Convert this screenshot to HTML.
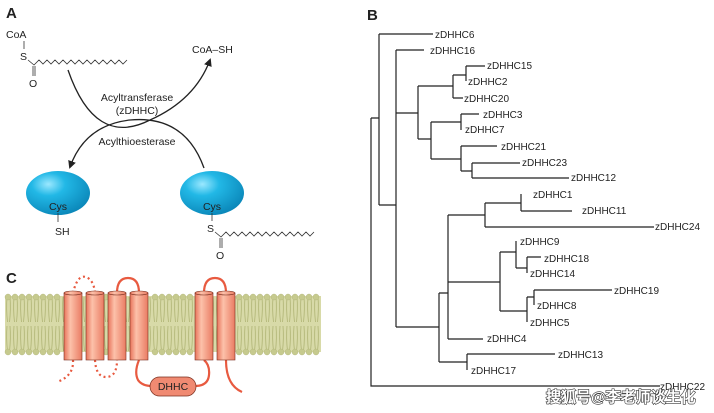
<!DOCTYPE html>
<html><head><meta charset="utf-8"><style>
html,body{margin:0;padding:0;background:#fff;width:714px;height:413px;overflow:hidden}
svg{display:block}
text{font-family:"Liberation Sans",sans-serif;fill:#222}
</style></head><body>
<svg width="714" height="413" viewBox="0 0 714 413" xmlns="http://www.w3.org/2000/svg">
<defs>
<radialGradient id="blob" cx="0.35" cy="0.3" r="0.75">
<stop offset="0" stop-color="#9be8ff"/><stop offset="0.35" stop-color="#22b8e6"/><stop offset="1" stop-color="#0a86b8"/>
</radialGradient>
<linearGradient id="cyl" x1="0" x2="1">
<stop offset="0" stop-color="#e8735a"/><stop offset="0.35" stop-color="#fcc1aa"/><stop offset="1" stop-color="#ea7b62"/>
</linearGradient>
<pattern id="lip" width="7" height="60" patternUnits="userSpaceOnUse" x="5" y="294">
<path d="M2 3 Q1 15 2.5 28 M5 3 Q6 15 4.5 28 M2 32 Q1 44 2.5 57 M5 32 Q6 44 4.5 57" stroke="#b3b779" stroke-width="0.9" fill="none"/>
</pattern>
<marker id="ar" markerWidth="8" markerHeight="8" refX="6" refY="4" orient="auto" markerUnits="userSpaceOnUse"><path d="M0 0 L8 4 L0 8 Z" fill="#222"/></marker>
</defs>

<!-- Panel A -->
<text x="6" y="18" font-size="15" font-weight="bold">A</text>
<text x="6" y="38" font-size="10.5">CoA</text>
<line x1="24" y1="41" x2="24" y2="49" stroke="#333" stroke-width="0.8"/>
<text x="20" y="60" font-size="10.5">S</text>
<path d="M28 60 L34 65 L39 60 L43 64 L47 60 L51 64 L55 60 L59 64 L63 60 L67 64 L71 60 L75 64 L79 60 L83 64 L87 60 L91 64 L95 60 L99 64 L103 60 L107 64 L111 60 L115 64 L119 60 L123 64 L127 60" fill="none" stroke="#333" stroke-width="0.8"/>
<path d="M33 66 V76 M35 66 V76" stroke="#333" stroke-width="0.8"/>
<text x="29" y="87" font-size="10.5">O</text>
<text x="192" y="53" font-size="10.5">CoA–SH</text>
<path d="M68 70 Q95 148 150 120 Q195 100 210 60" fill="none" stroke="#222" stroke-width="1.3" marker-end="url(#ar)"/>
<path d="M204 168 Q185 115 130 120 Q85 125 70 167" fill="none" stroke="#222" stroke-width="1.3" marker-end="url(#ar)"/>
<text x="137" y="101" font-size="10.5" text-anchor="middle">Acyltransferase</text>
<text x="137" y="114" font-size="10.5" text-anchor="middle">(zDHHC)</text>
<text x="137" y="145" font-size="10.5" text-anchor="middle">Acylthioesterase</text>
<ellipse cx="58" cy="193" rx="32" ry="22" fill="url(#blob)"/>
<ellipse cx="212" cy="193" rx="32" ry="22" fill="url(#blob)"/>
<text x="58" y="210" font-size="10.5" text-anchor="middle">Cys</text>
<text x="212" y="210" font-size="10.5" text-anchor="middle">Cys</text>
<line x1="58" y1="213" x2="58" y2="222" stroke="#333" stroke-width="0.8"/>
<text x="55" y="235" font-size="10.5">SH</text>
<line x1="212" y1="213" x2="212" y2="221" stroke="#333" stroke-width="0.8"/>
<text x="207" y="232" font-size="10.5">S</text>
<path d="M215 232 L221 237 L226 232 L230 236 L234 232 L238 236 L242 232 L246 236 L250 232 L254 236 L258 232 L262 236 L266 232 L270 236 L274 232 L278 236 L282 232 L286 236 L290 232 L294 236 L298 232 L302 236 L306 232 L310 236 L314 232" fill="none" stroke="#333" stroke-width="0.8"/>
<path d="M220 238 V248 M222 238 V248" stroke="#333" stroke-width="0.8"/>
<text x="216" y="259" font-size="10.5">O</text>

<!-- Panel C -->
<text x="6" y="283" font-size="15" font-weight="bold">C</text>
<rect x="5" y="296" width="316" height="56" fill="#d8daa8"/>
<rect x="5" y="296" width="316" height="56" fill="url(#lip)"/>
<g id="beads" fill="#c6ca8e" stroke="#b0b478" stroke-width="0.4"></g>
<path d="M73 293 Q78 272 88 278 Q94 282 95 293" fill="none" stroke="#e85a40" stroke-width="2.2" stroke-dasharray="2 3"/>
<path d="M117 293 Q117 278 128 278 Q139 278 139 293" fill="none" stroke="#e85a40" stroke-width="2.2"/>
<path d="M204 293 Q204 278 215 278 Q226 278 226 293" fill="none" stroke="#e85a40" stroke-width="2.2"/>
<path d="M95 360 Q96 377 106 377 Q117 377 117 360" fill="none" stroke="#e85a40" stroke-width="2.2" stroke-dasharray="2 3"/>
<path d="M73 360 Q74 376 57 382" fill="none" stroke="#e85a40" stroke-width="2.2" stroke-dasharray="2 3"/>
<path d="M139 360 Q134 372 138 380 Q142 386 152 386" fill="none" stroke="#e85a40" stroke-width="2.2"/>
<path d="M195 386 Q208 386 209 375 Q210 365 204 360" fill="none" stroke="#e85a40" stroke-width="2.2"/>
<path d="M226 360 Q226 385 242 392" fill="none" stroke="#e85a40" stroke-width="2.2"/>
<g stroke="#7a3020" stroke-width="0.6" fill="url(#cyl)">
<rect x="64" y="293" width="18" height="67"/><ellipse cx="73" cy="293" rx="9" ry="2"/>
<rect x="86" y="293" width="18" height="67"/><ellipse cx="95" cy="293" rx="9" ry="2"/>
<rect x="108" y="293" width="18" height="67"/><ellipse cx="117" cy="293" rx="9" ry="2"/>
<rect x="130" y="293" width="18" height="67"/><ellipse cx="139" cy="293" rx="9" ry="2"/>
<rect x="195" y="293" width="18" height="67"/><ellipse cx="204" cy="293" rx="9" ry="2"/>
<rect x="217" y="293" width="18" height="67"/><ellipse cx="226" cy="293" rx="9" ry="2"/>
</g>
<rect x="150" y="377" width="46" height="19" rx="9.5" fill="#f08a72" stroke="#7a3020" stroke-width="0.7"/>
<text x="173" y="390" font-size="10.5" text-anchor="middle">DHHC</text>

<!-- Panel B -->
<text x="367" y="20" font-size="15" font-weight="bold">B</text>
<g stroke="#222" stroke-width="1.2" fill="none">
<path d="M371 118 V386 H660"/>
<path d="M371 118 H379 M379 34 V205 M379 34 H433 M379 205 H396"/>
<path d="M396 50 V327 M396 50 H424 M396 113 H418 M396 327 H439"/>
<path d="M418 86 V139 M418 86 H453 M418 139 H431"/>
<path d="M453 75 V98 M453 75 H466 M453 98 H463 M466 66 V81 M466 66 H485"/>
<path d="M431 122 V159 M431 122 H461 M431 159 H461 M461 114 V130 M461 114 H479"/>
<path d="M461 146 V171 M461 146 H497 M461 171 H472 M472 163 V178 M472 163 H520 M472 178 H569"/>
<path d="M439 293 V362 M439 293 H448 M439 362 H467"/>
<path d="M448 215 V339 M448 215 H485 M448 282 H500 M448 339 H483"/>
<path d="M485 203 V227 M485 203 H521 M485 227 H654 M521 194 V211 M521 211 H572"/>
<path d="M500 252 V311 M500 252 H516 M500 311 H527 M516 241 V268 M516 268 H527 M527 257 V273 M527 257 H541"/>
<path d="M527 297 V322 M527 297 H534 M534 290 V305 M534 290 H612"/>
<path d="M467 354 V370 M467 354 H555"/>
</g>
<g font-size="10">
<text x="435" y="38">zDHHC6</text>
<text x="430" y="54">zDHHC16</text>
<text x="487" y="69">zDHHC15</text>
<text x="468" y="85">zDHHC2</text>
<text x="464" y="102">zDHHC20</text>
<text x="483" y="118">zDHHC3</text>
<text x="465" y="133">zDHHC7</text>
<text x="501" y="150">zDHHC21</text>
<text x="522" y="166">zDHHC23</text>
<text x="571" y="181">zDHHC12</text>
<text x="533" y="198">zDHHC1</text>
<text x="582" y="214">zDHHC11</text>
<text x="655" y="230">zDHHC24</text>
<text x="520" y="245">zDHHC9</text>
<text x="544" y="262">zDHHC18</text>
<text x="530" y="277">zDHHC14</text>
<text x="614" y="294">zDHHC19</text>
<text x="537" y="309">zDHHC8</text>
<text x="530" y="326">zDHHC5</text>
<text x="487" y="342">zDHHC4</text>
<text x="558" y="358">zDHHC13</text>
<text x="471" y="374">zDHHC17</text>
<text x="660" y="390">zDHHC22</text>
</g>
<text x="546" y="402" font-size="15" font-family="'Liberation Sans','Noto Sans CJK SC',sans-serif" style="fill:#fff;stroke:#333;stroke-width:1.2;paint-order:stroke" font-weight="bold">搜狐号@李老师谈生化</text>
</svg>
<script>
(function(){var g=document.getElementById('beads'),s='';for(var x=8;x<320;x+=7){if((x>60&&x<84)||(x>84&&x<106)||(x>106&&x<128)||(x>128&&x<150)||(x>192&&x<237))continue;s+='<circle cx="'+x+'" cy="297" r="3"/><circle cx="'+x+'" cy="352" r="3"/>';}g.innerHTML=s;})();
</script>
</body></html>
